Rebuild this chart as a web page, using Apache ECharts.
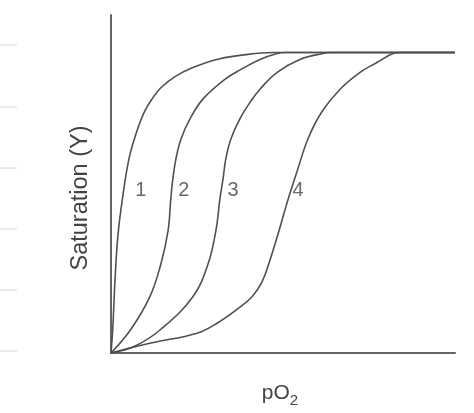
<!DOCTYPE html>
<html>
<head>
<meta charset="utf-8">
<script src="https://cdn.jsdelivr.net/npm/echarts@6/dist/echarts.min.js"></script>
<style>html,body{margin:0;padding:0;background:#fff}#c{width:474px;height:413px}</style>
</head>
<body>
<div id="c"></div>
<script>
// pO2 (arbitrary units 0-100) vs saturation Y (0-1)
const curve1 = [[0,0],[0.5,0.079],[1.2,0.25],[2.0,0.39],[3.4,0.52],[5.2,0.645],[7.0,0.72],[9.6,0.80],[12.2,0.85],[14.5,0.883],[18.6,0.92],[23.3,0.948],[31.1,0.978],[39.8,0.994],[47.1,1.0],[100,1.0]];
const curve2 = [[0,0],[5.8,0.079],[11.3,0.1875],[14.5,0.296],[16.6,0.408],[17.4,0.516],[18.0,0.582],[18.9,0.648],[20.4,0.714],[23.0,0.78],[26.7,0.845],[33.1,0.911],[37.8,0.944],[43.3,0.977],[48.3,0.997],[50.6,1.0],[100,1.0]];
const curve3 = [[0,0],[7.0,0.023],[14.5,0.079],[23.8,0.1875],[28.2,0.296],[30.5,0.408],[31.7,0.516],[32.6,0.582],[33.4,0.648],[34.9,0.714],[37.5,0.78],[40.7,0.839],[43.3,0.878],[48.3,0.934],[54.9,0.977],[61.6,0.997],[63.7,1.0],[100,1.0]];
const curve4 = [[0,0],[11.6,0.033],[25.0,0.066],[30.8,0.099],[36.6,0.145],[41.0,0.1875],[43.9,0.237],[46.2,0.309],[48.4,0.39],[50.3,0.465],[51.6,0.516],[54.1,0.605],[57.3,0.714],[61.3,0.803],[66.6,0.878],[72.4,0.934],[77.3,0.967],[82.0,0.997],[84.0,1.0],[100,1.0]];
const curveNames = ['1','2','3','4'];
const labelX = [8.7, 21.2, 35.5, 54.4];
const labelY = [0.54, 0.54, 0.54, 0.54];
const xTitle = 'pO2';
const yTitle = 'Saturation (Y)';

const chart = echarts.init(document.getElementById('c'));
const lineColor = '#505050';
const font = 'Liberation Sans, Arial, sans-serif';
const curves = [curve1, curve2, curve3, curve4];
const series = curves.map((d, i) => ({
  type: 'line', name: curveNames[i], data: d, smooth: 0.4,
  showSymbol: false, symbol: 'none',
  lineStyle: {color: lineColor, width: 1.6}
}));
series.push({
  type: 'scatter', symbolSize: 0,
  data: curveNames.map((n, i) => ({value: [labelX[i], labelY[i]], name: n})),
  label: {show: true, formatter: p => p.name, position: 'inside',
          color: '#444', fontSize: 20, fontFamily: font}
});
chart.setOption({
  animation: false,
  backgroundColor: '#fff',
  grid: {left: 111, top: 15, right: 19, bottom: 56},
  xAxis: {
    type: 'value', min: 0, max: 100,
    name: '{a|pO}{s|2}', nameLocation: 'middle', nameGap: 26,
    nameTextStyle: {padding: [0, 6, 0, 0], rich: {
      a: {fontSize: 21, color: '#444', fontFamily: font},
      s: {fontSize: 15, color: '#444', fontFamily: font, padding: [14,0,0,0]}
    }},
    axisLine: {lineStyle: {color: '#666', width: 2}},
    axisTick: {show: false}, axisLabel: {show: false}, splitLine: {show: false}
  },
  yAxis: {
    type: 'value', min: 0, max: 1.125,
    name: yTitle, nameLocation: 'middle', nameGap: 18,
    nameTextStyle: {fontSize: 23.5, color: '#444', fontFamily: font, padding: [0, 28, 0, 0]},
    axisLine: {show: true, lineStyle: {color: '#666', width: 2}},
    axisTick: {show: false}, axisLabel: {show: false}, splitLine: {show: false}
  },
  graphic: [45,107,168,229,290,351].map(y => ({
    type: 'line', shape: {x1: 0, y1: y, x2: 17, y2: y},
    style: {stroke: '#d4d4d4', lineWidth: 1}
  })),
  series: series
});
</script>
</body>
</html>
